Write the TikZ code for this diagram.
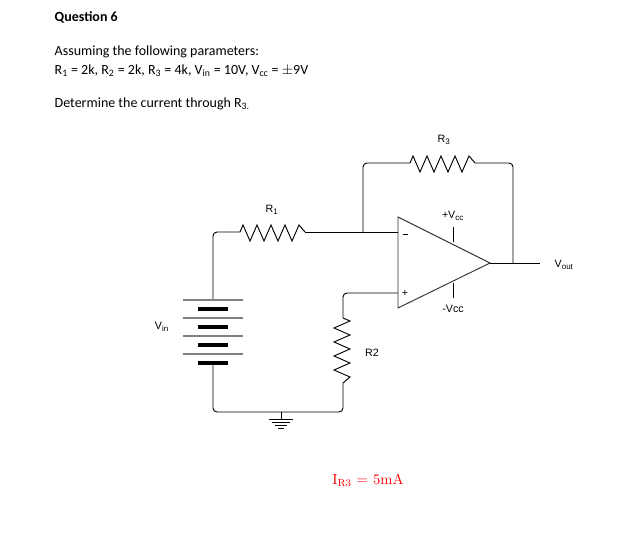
\documentclass[tikz,border=0pt]{standalone}
\usepackage{fontspec}
\setmainfont{Carlito}
\newfontfamily\circfont{Liberation Sans}
\newfontfamily\serfont{Latin Modern Roman}
\usetikzlibrary{calc}

\tikzset{
  wire/.style={line width=0.7pt, rounded corners=3pt},
  zig/.style={line width=0.7pt, sharp corners},
  lbl/.style={font=\circfont\fontsize{8}{9}\selectfont},
  txt/.style={anchor=west, font=\fontsize{10.5}{12}\selectfont},
}
\begin{document}
\begin{tikzpicture}[x=0.75pt, y=-0.75pt]
\useasboundingbox (0,0) rectangle (639,541);
% question text
\node[txt] (q) at (50,17) {\textbf{Question 6}};
\node[txt] (p1) at (50,52) {Assuming the following parameters:};
\node[txt] (p2) at (50,71) {R\textsubscript{1} = 2k, R\textsubscript{2} = 2k, R\textsubscript{3} = 4k, V\textsubscript{in} = 10V, V\textsubscript{cc} = $\pm$9V};
\node[txt] (p3) at (50,104) {Determine the current through R\textsubscript{3.}};
% op-amp
\draw[line width=0.7pt, gray!40!black] (398,217) -- (398,308) -- (490,263) -- cycle;
\draw[line width=0.6pt] (403,234) -- (408,234);
\node[lbl] (pl) at (405,293) {+};
\draw[line width=0.7pt] (453,227) -- (453,242);
\draw[line width=0.7pt] (453,283) -- (453,298);
\node[lbl] (vp) at (453,216) {+V\textsubscript{cc}};
\node[lbl] (vm) at (453,309) {-Vcc};
\draw[line width=0.7pt] (490,263) -- (540,263);
\node[lbl, anchor=west] (vo) at (550,265) {V\textsubscript{out}};
% R1 and inverting input
\draw[wire] (213,300) -- (213,232) -- (240,232);
\draw[zig] (240,232) -- ++(3,-7) \foreach \i in {1,...,4} {-- ++(7,16) -- ++(7,-16)} -- ++(6,7);
\draw[wire] (305,232) -- (398,232);
\node[lbl] (r1) at (272,210) {R\textsubscript{1}};
% R3 feedback
\draw[wire] (363,232) -- (363,163) -- (410,163);
\draw[zig] (410,163) -- ++(3,-7) \foreach \i in {1,...,4} {-- ++(7,16) -- ++(7,-16)} -- ++(6,7);
\draw[wire] (475,163) -- (513,163) -- (513,263);
\node[lbl] (r3) at (444,140) {R\textsubscript{3}};
% R2 and non-inverting input
\draw[wire] (398,293) -- (343,293) -- (343,318);
\draw[zig] (343,318) -- ++(7,3) \foreach \i in {1,...,4} {-- ++(-16,7) -- ++(16,7)} -- ++(-7,6);
\draw[wire] (343,383) -- (343,412) -- (213,412) -- (213,363);
\node[lbl] (r2) at (372,353) {R2};
% battery
\foreach \y in {300,318,336,354} \draw[line width=1pt, gray] (183,\y) -- (243,\y);
\foreach \y in {309,327,345,363} \draw[line width=3pt] (198,\y) -- (228,\y);
\node[lbl] (vin) at (162,327) {V\textsubscript{in}};
% ground
\draw[line width=0.7pt] (281,412) -- (281,419);
\foreach \w/\y in {12/419,9/422,6/425,3/428} \draw[line width=0.6pt] ($(281,\y)-(\w,0)$) -- ($(281,\y)+(\w,0)$);
% answer
\node[red, font=\serfont\fontsize{11}{13}\selectfont] (ans) at (368,480) {I\textsubscript{R3} = 5mA};
\end{tikzpicture}
\end{document}
